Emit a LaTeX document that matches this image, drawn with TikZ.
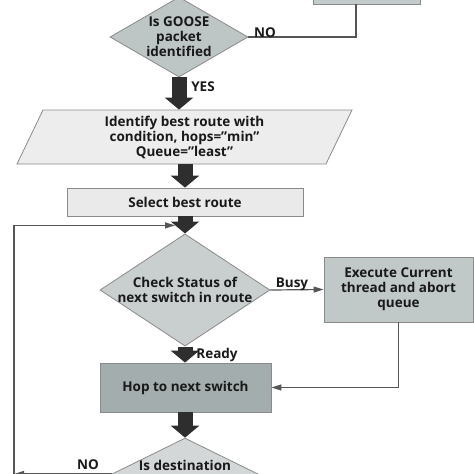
\documentclass[tikz,border=0pt]{standalone}
\usepackage{fontspec}
\setmainfont{Open Sans}
\usetikzlibrary{shapes.geometric,arrows.meta,calc}
\definecolor{dAc}{HTML}{BDC5C5}
\definecolor{pc}{HTML}{EDEDED}
\definecolor{sc}{HTML}{EAEAEA}
\definecolor{dBc}{HTML}{C9CECE}
\definecolor{ec}{HTML}{C1C8C8}
\definecolor{hc}{HTML}{A4ADAD}
\definecolor{dCc}{HTML}{D3D7D7}
\definecolor{trc}{HTML}{C3CACA}
\definecolor{arrowc}{HTML}{2E2E2E}
\definecolor{linec}{HTML}{555555}
\definecolor{borderc}{HTML}{8A8A8A}
\begin{document}
\begin{tikzpicture}[x=1pt,y=-1pt,
  every node/.style={font=\bfseries\fontsize{13.5}{15}\selectfont, text=black!90},
  dia/.style={shape=diamond, draw=borderc, line width=0.8pt, inner sep=-12pt, align=center},
  boxnode/.style={shape=rectangle, draw=borderc, line width=0.8pt, inner sep=0pt, align=center},
  para/.style={shape=trapezium, trapezium left angle=58.6, trapezium right angle=121.4,
    trapezium stretches body=true, draw=borderc, line width=0.8pt, inner sep=0pt, align=center},
  fat/.style={line width=15pt, draw=arrowc, -{Triangle[width=28pt,length=12pt]}},
  thinline/.style={draw=linec, line width=1.2pt},
  thinarrow/.style={thinline, -{Triangle[width=6pt,length=10pt]}},
  lbl/.style={inner sep=0pt}
]
\useasboundingbox (0,0) rectangle (474,474);
\clip (0,0) rectangle (474,474);

% shapes
\node[boxnode, fill=trc, minimum width=107pt, minimum height=40pt] (tr) at (366.5,-16) {};
\node[dia, fill=dAc, minimum width=138pt, minimum height=80pt] (d1) at (179,37) {Is GOOSE\\packet\\identified};
\node[para, fill=pc, minimum width=335pt, minimum height=54pt] (p) at (184.5,137) {Identify best route with\\condition, hops=”min”\\Queue=”least”};
\node[boxnode, fill=sc, minimum width=236pt, minimum height=28pt] (s) at (185,202) {Select best route};
\node[dia, fill=dBc, minimum width=170pt, minimum height=96pt] (d2) at (185,290) {Check Status of\\next switch in route};
\node[boxnode, fill=ec, minimum width=149pt, minimum height=65pt] (e) at (398.5,289.5) {Execute Current\\thread and abort\\queue};
\node[boxnode, fill=hc, minimum width=171pt, minimum height=49pt] (h) at (185.5,387.5) {Hop to next switch};
\node[dia, fill=dCc, minimum width=146pt, minimum height=68pt] (d3) at (185,474) {\raisebox{-2pt}{Is destination}\\\strut};

% fat arrows
\draw[fat] (d1.south) -- (d1.south |- p.north);
\draw[fat] (p.south -| s.north) -- (s.north);
\draw[fat] (s.south) -- (s.south |- d2.north);
\draw[fat] (d2.south) -- (d2.south |- h.north);
\draw[fat] (h.south -| d3.north) -- (d3.north);

% thin connectors
\draw[thinline] (d1.east) -| ([xshift=-10.5pt]tr.south);
\draw[thinarrow] (d2.east) -- (e.west);
\draw[thinarrow] (e.south) |- (h.east);
\coordinate (lc) at (14,474);
\draw[thinarrow] (d3.west) -- (lc);
\draw[thinarrow] (lc) |- ($(s.south)+(-10,9)$);

% labels
\node[lbl] (noA) at (265,33) {NO};
\node[lbl] (yes) at (203,87) {YES};
\node[lbl] (busy) at (292,284) {Busy};
\node[lbl] (ready) at (217,355) {Ready};
\node[lbl] (noB) at (88,464.5) {NO};
\end{tikzpicture}
\end{document}
